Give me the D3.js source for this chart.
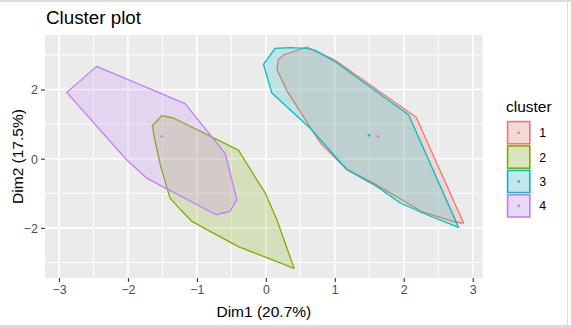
<!DOCTYPE html>
<html><head><meta charset="utf-8">
<script src="https://cdn.jsdelivr.net/npm/d3@7"></script>
<style>html,body{margin:0;padding:0;background:#fff;}svg{display:block;font-family:"Liberation Sans",Arial,sans-serif;}</style>
</head><body>
<script>
const clusters = ["1","2","3","4"];
const colors = ["#F8766D","#7CAE00","#00BFC4","#C77CFF"];
const hull1 = [[0.595,3.228],[1.0,2.85],[2.18,1.2],[2.868,-1.86],[2.75,-1.83],[2.25,-1.52],[1.6,-0.75],[1.17,-0.3],[0.81,0.41],[0.74,0.605],[0.305,1.96],[0.16,2.58],[0.183,2.87],[0.255,2.997]];
const hull2 = [[-1.509,1.243],[-1.341,1.176],[-0.398,0.25],[-0.13,-0.61],[-0.01,-0.99],[0.16,-1.76],[0.41,-3.17],[-0.40,-2.54],[-1.074,-1.81],[-1.24,-1.47],[-1.389,-1.14],[-1.524,-0.23],[-1.607,0.5],[-1.646,0.954]];
const hull3 = [[-0.035,2.725],[0.135,3.188],[0.353,3.208],[0.595,3.188],[0.716,3.13],[1.006,2.803],[2.07,1.27],[2.795,-1.985],[2.336,-1.62],[1.95,-1.28],[1.61,-0.80],[1.176,-0.32],[0.643,0.88],[0.087,1.9]];
const hull4 = [[-2.453,2.668],[-1.171,1.59],[-0.59,0.15],[-0.42,-1.19],[-0.52,-1.52],[-0.72,-1.62],[-1.73,-0.56],[-2.02,-0.03],[-2.889,1.916]];
const hulls = [hull1, hull2, hull3, hull4];
const centers = [[1.625,0.64],null,[1.495,0.675],[-1.51,0.64]];
const xTicks = [-3,-2,-1,0,1,2,3];
const yTicks = [-2,0,2];
const xMinor = [-2.5,-1.5,-0.5,0.5,1.5,2.5];
const yMinor = [-3,-1,1,3];

const W=571,H=328;
const L=45,R=482.7,T=35,B=278;
const x = d3.scaleLinear().domain([-3.203,3.145]).range([L,R]);
const y = d3.scaleLinear().domain([-3.448,3.575]).range([B,T]);

const svg = d3.select("body").append("svg").attr("width",W).attr("height",H);
svg.append("rect").attr("width",W).attr("height",H).attr("fill","#fff");
// screenshot frame
svg.append("rect").attr("x",0).attr("y",0).attr("width",W).attr("height",2).attr("fill","#dcdcdc");
svg.append("rect").attr("x",0).attr("y",325).attr("width",W).attr("height",3).attr("fill","#dcdcdc");
svg.append("rect").attr("x",567).attr("y",0).attr("width",1).attr("height",H).attr("fill","#dcdcdc");

svg.append("rect").attr("x",L).attr("y",T).attr("width",R-L).attr("height",B-T).attr("fill","#EBEBEB");
const g = svg.append("g");
g.selectAll(".vmin").data(xMinor).join("line").attr("x1",d=>x(d)).attr("x2",d=>x(d)).attr("y1",T).attr("y2",B).attr("stroke","#fff").attr("stroke-width",0.9);
g.selectAll(".hmin").data(yMinor).join("line").attr("y1",d=>y(d)).attr("y2",d=>y(d)).attr("x1",L).attr("x2",R).attr("stroke","#fff").attr("stroke-width",0.9);
g.selectAll(".vmaj").data(xTicks).join("line").attr("x1",d=>x(d)).attr("x2",d=>x(d)).attr("y1",T).attr("y2",B).attr("stroke","#fff").attr("stroke-width",1.6);
g.selectAll(".hmaj").data(yTicks).join("line").attr("y1",d=>y(d)).attr("y2",d=>y(d)).attr("x1",L).attr("x2",R).attr("stroke","#fff").attr("stroke-width",1.6);

const line = d3.line().x(d=>x(d[0])).y(d=>y(d[1])).curve(d3.curveLinearClosed);
hulls.forEach((h,i)=>{
  g.append("path").attr("d",line(h)).attr("fill",colors[i]).attr("fill-opacity",0.2)
   .attr("stroke",colors[i]).attr("stroke-width",1.3).attr("stroke-linejoin","round");
});
centers.forEach((c,i)=>{ if(c) g.append("circle").attr("cx",x(c[0])).attr("cy",y(c[1])).attr("r",1.3).attr("fill",colors[i]); });

// axes
const xa = svg.append("g").attr("transform",`translate(0,${B})`).call(d3.axisBottom(x).tickValues(xTicks).tickSize(4).tickPadding(3).tickFormat(d3.format("d")));
const ya = svg.append("g").attr("transform",`translate(${L},0)`).call(d3.axisLeft(y).tickValues(yTicks).tickSize(4).tickPadding(3).tickFormat(d3.format("d")));
[xa,ya].forEach(a=>{
  a.select(".domain").remove();
  a.selectAll("line").attr("stroke","#333333").attr("stroke-width",1.1);
  a.selectAll("text").attr("fill","#4D4D4D").attr("font-size","12.4px").attr("font-family","Liberation Sans, Arial, sans-serif");
});
ya.selectAll("text").attr("dy","0.36em");

svg.append("text").attr("x",46).attr("y",24.3).attr("font-size","18.8px").attr("fill","#000").text("Cluster plot");
svg.append("text").attr("x",(L+R)/2).attr("y",316.7).attr("text-anchor","middle").attr("font-size","15.5px").attr("fill","#000").text("Dim1 (20.7%)");
svg.append("text").attr("transform",`translate(23,${(T+B)/2}) rotate(-90)`).attr("text-anchor","middle").attr("font-size","15.5px").attr("fill","#000").text("Dim2 (17.5%)");

// legend
const lg = svg.append("g");
lg.append("text").attr("x",506).attr("y",111.7).attr("font-size","15.5px").attr("fill","#000").text("cluster");
clusters.forEach((c,i)=>{
  const ky = 120.7 + i*24.4;
  lg.append("rect").attr("x",506.7).attr("y",ky).attr("width",24).attr("height",24).attr("fill","#F2F2F2");
  lg.append("rect").attr("x",507.6).attr("y",ky+0.9).attr("width",22.2).attr("height",22.2).attr("fill",colors[i]).attr("fill-opacity",0.2).attr("stroke",colors[i]).attr("stroke-width",1.6);
  if(centers[i]) lg.append("circle").attr("cx",518.7).attr("cy",ky+12).attr("r",1.3).attr("fill",colors[i]);
  lg.append("text").attr("x",539.3).attr("y",ky+12).attr("dy","0.36em").attr("font-size","12.4px").attr("fill","#000").text(c);
});
</script>
</body></html>
